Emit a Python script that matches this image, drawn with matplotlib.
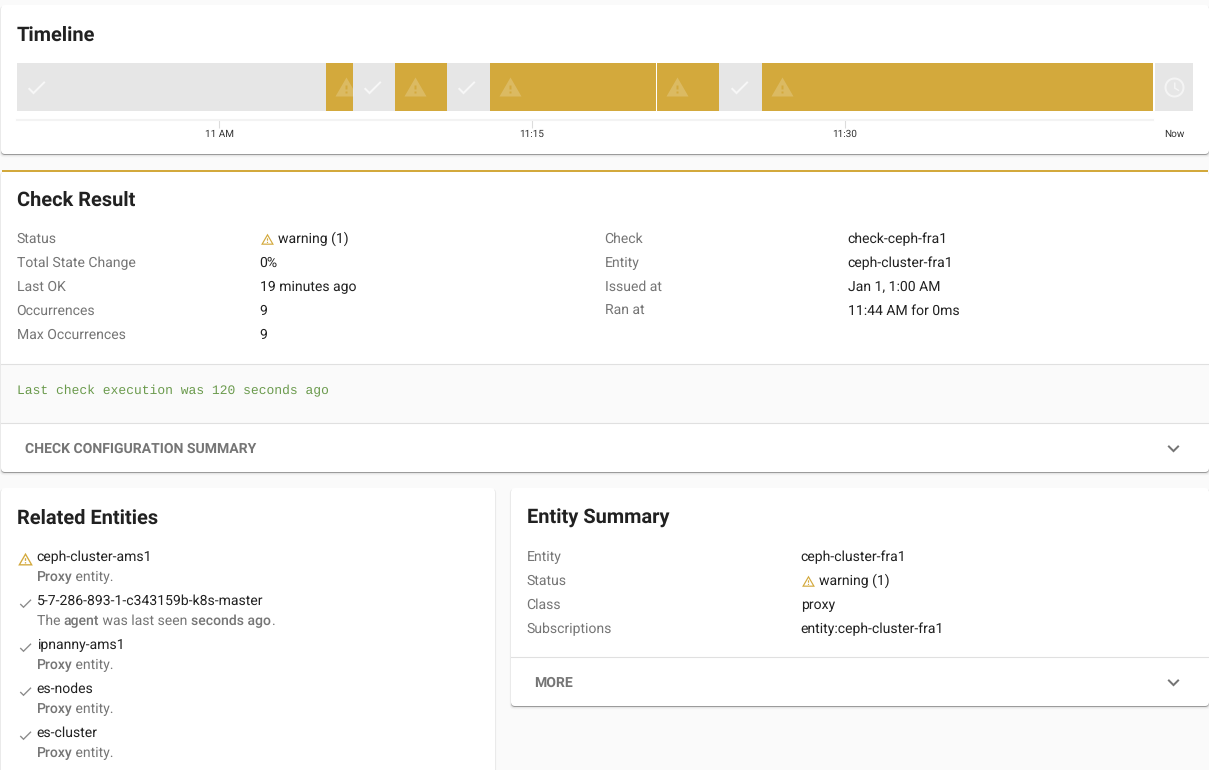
import numpy as np
import matplotlib
matplotlib.use("Agg")
import matplotlib.pyplot as plt
from matplotlib.patches import FancyBboxPatch, Rectangle
from matplotlib.path import Path

W, H = 1209, 770
GOLD = "#d3a93c"
GREY_BAR = "#e6e6e6"
DARK = "#212121"
MID = "#757575"
ICON_GREY = "#8a8a8a"

plt.rcParams["font.family"] = ["Roboto", "DejaVu Sans"]
plt.rcParams["text.hinting"] = "no_hinting"
plt.rcParams["text.hinting_factor"] = 1

# minutes after 11:00
seg_start = [-9.68, 5.13, 6.42, 8.43, 10.92, 12.99, 21.00, 23.96, 26.02, 44.85]
seg_end = [5.13, 6.42, 8.43, 10.92, 12.99, 20.95, 23.96, 26.02, 44.75, 46.67]
seg_state = ["ok", "warn", "ok", "warn", "ok", "warn", "warn", "ok", "warn", "now"]
axis_ticks = [0, 15, 30, 45.76]
axis_labels = ["11 AM", "11:15", "11:30", "Now"]

result_left_labels = ["Status", "Total State Change", "Last OK", "Occurrences", "Max Occurrences"]
result_left_values = ["warning (1)", "0%", "19 minutes ago", "9", "9"]
result_right_labels = ["Check", "Entity", "Issued at", "Ran at"]
result_right_values = ["check-ceph-fra1", "ceph-cluster-fra1", "Jan 1, 1:00 AM", "11:44 AM for 0ms"]
output_line = "Last check execution was 120 seconds ago"

summary_labels = ["Entity", "Status", "Class", "Subscriptions"]
summary_values = ["ceph-cluster-fra1", "warning (1)", "proxy", "entity:ceph-cluster-fra1"]

related_names = ["ceph-cluster-ams1", "5-7-286-893-1-c343159b-k8s-master", "ipnanny-ams1", "es-nodes", "es-cluster"]
related_states = ["warn", "ok", "ok", "ok", "ok"]
proxy_note = [("Proxy", True), (" entity.", False)]
agent_note = [("The ", False), ("agent", True), (" was last seen ", False), ("seconds ago", True), (".", False)]
related_notes = [proxy_note, agent_note, proxy_note, proxy_note, proxy_note]


def orient(poly, positive):
    poly = np.array(poly, float)
    x, y = poly[:, 0], poly[:, 1]
    area = np.sum(x * np.roll(y, -1) - np.roll(x, -1) * y)
    return poly if (area > 0) == positive else poly[::-1]


def icon_path(outer, holes=()):
    # icons are drawn on a 24 unit grid with y pointing down
    parts = []
    for poly, positive in [(p, True) for p in outer] + [(p, False) for p in holes]:
        poly = orient(poly, positive)
        poly = np.column_stack([poly[:, 0] - 12, 12 - poly[:, 1]])
        parts.append(Path(np.vstack([poly, poly[:1]]), closed=True))
    return Path.make_compound_path(*parts)


def ring(r, n=48):
    t = np.linspace(0, 2 * np.pi, n, endpoint=False)
    return np.column_stack([12 + r * np.cos(t), 12 + r * np.sin(t)])


CHECK = icon_path([[(9, 16.17), (4.83, 12), (3.41, 13.41), (9, 19), (21, 7), (19.59, 5.59)]])
WARN = icon_path([[(1, 21), (23, 21), (12, 2)]],
                 [[(11, 18), (13, 18), (13, 16), (11, 16)], [(11, 14), (13, 14), (13, 10), (11, 10)]])
WARN_OUTLINE = icon_path([[(1, 21), (23, 21), (12, 2)], [(13, 16), (11, 16), (11, 18), (13, 18)], [(13, 10), (11, 10), (11, 14), (13, 14)]],
                         [[(12, 5.99), (19.53, 19), (4.47, 19)]])
CLOCK = icon_path([ring(10), [(11.5, 7), (13, 7), (13, 12.2), (16.9, 14.6), (16.2, 15.8), (11.5, 13)]], [ring(8)])
CHEVRON = icon_path([[(7.41, 8.59), (12, 13.17), (16.59, 8.59), (18, 10), (12, 16), (6, 10)]])


def draw_icon(ax, x, y, path, px, color, alpha=1.0, zorder=5, **kw):
    # custom markers get rescaled to their largest coordinate
    ms = px * 0.72 * np.abs(path.vertices).max() / 12
    return ax.plot([x], [y], marker=path, ms=ms, mfc=color, mew=0, ls="none",
                   alpha=alpha, zorder=zorder, **kw)[0]


fig = plt.figure(figsize=(W / 100, H / 100), dpi=100, facecolor="#fafafa")
page = fig.add_axes([0, 0, 1, 1])
page.set_xlim(0, W)
page.set_ylim(H, 0)
page.axis("off")


def card(x0, y0, x1, y1):
    for off, grow, a in [(2, 1.2, 0.03), (1.5, 0.6, 0.05), (1, 0, 0.32)]:
        page.add_patch(FancyBboxPatch((x0 - grow, y0 + off - grow), x1 - x0 + 2 * grow, y1 - y0 + 2 * grow,
                                      boxstyle="round,pad=0,rounding_size=4", fc="black", ec="none",
                                      alpha=a, zorder=1))
    page.add_patch(FancyBboxPatch((x0, y0), x1 - x0, y1 - y0, boxstyle="round,pad=0,rounding_size=4",
                                  fc="white", ec="none", zorder=2))


def text(x, y, s, color=DARK, size=14, weight="normal", **kw):
    # y is the middle of the line, baseline keeps rows with descenders level
    return page.text(x - 0.4, y + size * 0.36, s, color=color, fontsize=size * 0.72, fontweight=weight,
                     va="baseline", zorder=6, **kw)


def label_rows(x_label, x_value, y0, labels, values):
    for i, (lab, val) in enumerate(zip(labels, values)):
        y = y0 + 24 * i
        text(x_label, y, lab, MID)
        if val.startswith("warning"):
            draw_icon(page, x_value + 7, y + 1, WARN_OUTLINE, 14, GOLD)
            text(x_value + 18, y, val)
        else:
            text(x_value, y, val)


def mixed_text(x, y, runs, color=MID):
    renderer = fig.canvas.get_renderer()
    for s, bold in runs:
        t = text(x, y, s, color, weight="medium" if bold else "normal")
        x = page.transData.inverted().transform(t.get_window_extent(renderer))[1, 0] + 0.4


card(1, 5, W, 154)
card(1, 171, W, 472)
card(1, 488, 495, H + 20)
card(511, 488, W, 706)

# top border of the result card
page.add_patch(Rectangle((2, 170), W - 3, 2, fc=GOLD, ec="none", zorder=3))

text(17, 34, "Timeline", size=20, weight="bold")
text(17, 199, "Check Result", size=20, weight="bold")
text(17, 517, "Related Entities", size=20, weight="bold")
text(527, 517, "Entity Summary", size=20, weight="bold")

# timeline
px_per_min = 20.87
tl = fig.add_axes([17 / W, 1 - 119.5 / H, (1193 - 17) / W, 56.5 / H])
tl.set_xlim(seg_start[0], seg_end[-1])
tl.set_ylim(119.5, 63)
tl.patch.set_alpha(0)
for side in ("top", "left", "right"):
    tl.spines[side].set_visible(False)
tl.spines["bottom"].set_color("#f3f3f3")
tl.spines["bottom"].set_linewidth(1.5)
tl.spines["bottom"].set_bounds(seg_start[0], seg_end[-2])
tl.set_yticks([])
tl.set_xticks(axis_ticks, axis_labels, fontsize=7.2, color="#333333")
tl.tick_params(axis="x", length=5.5, width=0.8, color="#dcdcdc", pad=1.5)
tl.xaxis.get_major_ticks()[-1].tick1line.set_visible(False)

for start, end, state in zip(seg_start, seg_end, seg_state):
    bar = tl.barh(87, end - start, left=start, height=48, color=GOLD if state == "warn" else GREY_BAR, lw=0)[0]
    if state == "warn":
        mark = draw_icon(tl, start + 20 / px_per_min, 87, WARN, 24, "white", alpha=0.2)
    elif state == "ok":
        mark = draw_icon(tl, start + 19.5 / px_per_min, 87, CHECK, 24, "white", alpha=0.7)
    else:
        mark = draw_icon(tl, (start + end) / 2, 87, CLOCK, 24, "white", alpha=0.6)
    mark.set_clip_path(bar)

# check result body
label_rows(17, 260, 238, result_left_labels, result_left_values)
label_rows(605, 848, 238, result_right_labels, result_right_values)

page.add_patch(Rectangle((1, 364), W, 59.5, fc="#fafafa", ec="none", zorder=3))
page.plot([1, W], [364, 364], color="#e0e0e0", lw=0.8, zorder=4)
page.plot([1, W], [423, 423], color="#e0e0e0", lw=0.8, zorder=4)
text(17, 390, output_line, "#6a9a4c", size=13.08, family=["Liberation Mono"])

text(25, 448, "CHECK CONFIGURATION SUMMARY", MID, weight="bold")
draw_icon(page, 1173, 448, CHEVRON, 24, MID)

# related entities
for i, (name, state, note) in enumerate(zip(related_names, related_states, related_notes)):
    y = 556 + 44 * i
    if state == "warn":
        draw_icon(page, 25, y + 3, WARN_OUTLINE, 16, GOLD)
    else:
        draw_icon(page, 24.5, y + 3, CHECK, 16, ICON_GREY)
    text(37, y, name)
    mixed_text(37, y + 20, note)

# entity summary
label_rows(527, 801, 556, summary_labels, summary_values)
page.plot([511, W], [657, 657], color="#e0e0e0", lw=0.8, zorder=4)
text(535, 682, "MORE", MID, weight="bold")
draw_icon(page, 1173, 682, CHEVRON, 24, MID)

fig.savefig("out.png", dpi=100, facecolor=fig.get_facecolor())
